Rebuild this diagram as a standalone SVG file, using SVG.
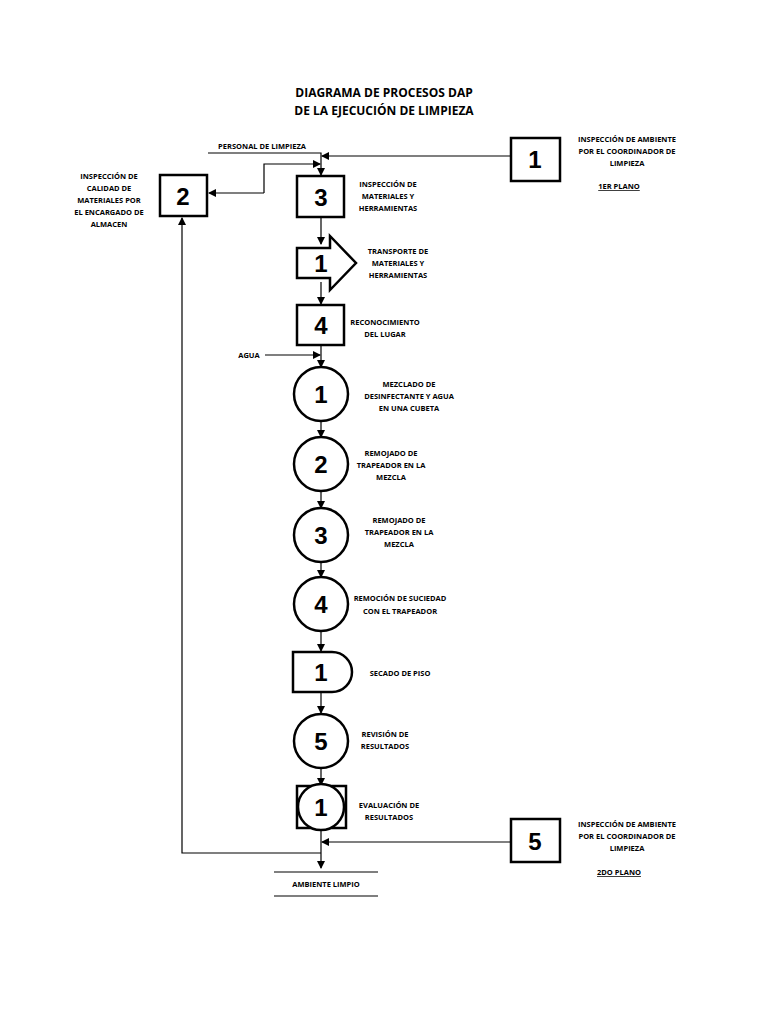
<svg xmlns="http://www.w3.org/2000/svg" width="768" height="1024" viewBox="0 0 768 1024">
<defs>
<marker id="ah" markerWidth="8" markerHeight="8" refX="7" refY="4" orient="auto" markerUnits="userSpaceOnUse"><path d="M0,0 L8,4 L0,8 Z" fill="#000"/></marker>
<style>
.s{fill:#fff;stroke:#000;stroke-width:2.5}
.l{fill:none;stroke:#000;stroke-width:1.2}
.n{font-family:"Liberation Sans",Arial,sans-serif;font-weight:bold;font-size:24px;text-anchor:middle}
.t{font-family:"Open Sans","Liberation Sans",sans-serif;font-weight:bold;font-size:7.5px;text-anchor:middle}
.h{font-family:"Open Sans","Liberation Sans",sans-serif;font-weight:bold;font-size:12px;text-anchor:middle}
</style>
</defs>
<rect width="768" height="1024" fill="#fff"/>
<text class="h" x="384" y="97">DIAGRAMA DE PROCESOS DAP</text>
<text class="h" x="384" y="115">DE LA EJECUCIÓN DE LIMPIEZA</text>
<g id="connectors">
<path class="l" d="M208,153 H321 V175" marker-end="url(#ah)"/>
<path class="l" d="M510,156 H322" marker-end="url(#ah)"/>
<path class="l" d="M264,193 V164 H320" marker-end="url(#ah)"/>
<path class="l" d="M264,193 H209" marker-end="url(#ah)"/>
<path class="l" d="M321,217 V244" marker-end="url(#ah)"/>
<path class="l" d="M321,282 V304" marker-end="url(#ah)"/>
<path class="l" d="M321,345 V367" marker-end="url(#ah)"/>
<path class="l" d="M265,355 H320" marker-end="url(#ah)"/>
<path class="l" d="M321,421 V437" marker-end="url(#ah)"/>
<path class="l" d="M321,491 V508" marker-end="url(#ah)"/>
<path class="l" d="M321,562 V577" marker-end="url(#ah)"/>
<path class="l" d="M321,631 V651" marker-end="url(#ah)"/>
<path class="l" d="M321,692 V713" marker-end="url(#ah)"/>
<path class="l" d="M321,768 V785" marker-end="url(#ah)"/>
<path class="l" d="M321,828 V868" marker-end="url(#ah)"/>
<path class="l" d="M511,842 H322" marker-end="url(#ah)"/>
<path class="l" d="M321,853 H182 V218" marker-end="url(#ah)"/>
</g>
<text class="t" x="262" y="149">PERSONAL DE LIMPIEZA</text>
<text class="t" x="249" y="358">AGUA</text>
<g id="op3"><rect class="s" x="297" y="176" width="47" height="41"/><text class="n" x="321" y="206">3</text>
<text class="t" x="388" y="187">INSPECCIÓN DE</text><text class="t" x="388" y="199">MATERIALES Y</text><text class="t" x="388" y="211">HERRAMIENTAS</text></g>
<g id="tr1"><path class="s" d="M297,248 H330 V236 L356,263 L330,290 V278 H297 Z"/><text class="n" x="321" y="272">1</text>
<text class="t" x="398" y="254">TRANSPORTE DE</text><text class="t" x="398" y="266">MATERIALES Y</text><text class="t" x="398" y="278">HERRAMIENTAS</text></g>
<g id="op4"><rect class="s" x="297" y="305" width="47" height="40"/><text class="n" x="321" y="334">4</text>
<text class="t" x="385" y="325">RECONOCIMIENTO</text><text class="t" x="385" y="337">DEL LUGAR</text></g>
<g id="c1"><circle class="s" cx="321" cy="394" r="27"/><text class="n" x="321" y="403">1</text>
<text class="t" x="409" y="387">MEZCLADO DE</text><text class="t" x="409" y="399">DESINFECTANTE Y AGUA</text><text class="t" x="409" y="411">EN UNA CUBETA</text></g>
<g id="c2"><circle class="s" cx="321" cy="464" r="27"/><text class="n" x="321" y="473">2</text>
<text class="t" x="391" y="456">REMOJADO DE</text><text class="t" x="391" y="468">TRAPEADOR EN LA</text><text class="t" x="391" y="480">MEZCLA</text></g>
<g id="c3"><circle class="s" cx="321" cy="535" r="27"/><text class="n" x="321" y="544">3</text>
<text class="t" x="399" y="523">REMOJADO DE</text><text class="t" x="399" y="535">TRAPEADOR EN LA</text><text class="t" x="399" y="547">MEZCLA</text></g>
<g id="c4"><circle class="s" cx="321" cy="604" r="27"/><text class="n" x="321" y="613">4</text>
<text class="t" x="400" y="601">REMOCIÓN DE SUCIEDAD</text><text class="t" x="400" y="614">CON EL TRAPEADOR</text></g>
<g id="d1"><path class="s" d="M293,652 H332 A20,20 0 0 1 332,692 H293 Z"/><text class="n" x="321" y="681">1</text>
<text class="t" x="400" y="676">SECADO DE PISO</text></g>
<g id="c5"><circle class="s" cx="321" cy="741" r="27"/><text class="n" x="321" y="750">5</text>
<text class="t" x="385" y="737">REVISIÓN DE</text><text class="t" x="385" y="749">RESULTADOS</text></g>
<g id="comb1"><rect class="s" x="297" y="786" width="49" height="42"/><circle class="s" cx="321" cy="807" r="23"/><text class="n" x="321" y="816">1</text>
<text class="t" x="389" y="808">EVALUACIÓN DE</text><text class="t" x="389" y="820">RESULTADOS</text></g>
<g id="end"><path class="l" d="M274,872 H378 M274,896 H378"/><text class="t" x="326" y="887">AMBIENTE LIMPIO</text></g>
<g id="b2"><rect class="s" x="160" y="175" width="47" height="41"/><text class="n" x="183" y="205">2</text>
<text class="t" x="109" y="179">INSPECCIÓN DE</text><text class="t" x="109" y="191">CALIDAD DE</text><text class="t" x="109" y="203">MATERIALES POR</text><text class="t" x="109" y="215">EL ENCARGADO DE</text><text class="t" x="109" y="227">ALMACEN</text></g>
<g id="b1"><rect class="s" x="511" y="138" width="49" height="43"/><text class="n" x="535" y="168">1</text>
<text class="t" x="627" y="142">INSPECCIÓN DE AMBIENTE</text><text class="t" x="627" y="154">POR EL COORDINADOR DE</text><text class="t" x="627" y="166">LIMPIEZA</text>
<text class="t" x="619" y="189" text-decoration="underline">1ER PLANO</text></g>
<g id="b5"><rect class="s" x="511" y="819" width="49" height="43"/><text class="n" x="535" y="850">5</text>
<text class="t" x="627" y="827">INSPECCIÓN DE AMBIENTE</text><text class="t" x="627" y="839">POR EL COORDINADOR DE</text><text class="t" x="627" y="851">LIMPIEZA</text>
<text class="t" x="619" y="875" text-decoration="underline">2DO PLANO</text></g>
</svg>
